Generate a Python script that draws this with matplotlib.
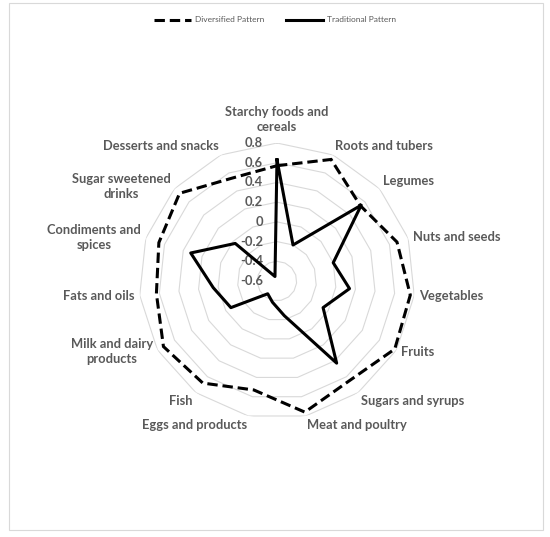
import numpy as np
import matplotlib
matplotlib.use("Agg")
import matplotlib.pyplot as plt
from matplotlib.patches import Rectangle
from matplotlib.transforms import offset_copy

plt.rcParams['font.family'] = ['Lato', 'DejaVu Sans']

CATEGORIES = ["Starchy foods and\ncereals", "Roots and tubers", "Legumes", "Nuts and seeds",
              "Vegetables", "Fruits", "Sugars and syrups", "Meat and poultry",
              "Eggs and products", "Fish", "Milk and dairy\nproducts", "Fats and oils",
              "Condiments and\nspices", "Sugar sweetened\ndrinks", "Desserts and snacks"]
DIVERSIFIED = [0.57, 0.75, 0.54, 0.68, 0.76, 0.78, 0.65, 0.76, 0.53, 0.68, 0.73, 0.63, 0.66, 0.73, 0.54]
TRADITIONAL = [0.63, -0.20, 0.55, 0.00, 0.14, -0.06, 0.43, -0.24, -0.38, -0.44, -0.06, 0.05, 0.32, -0.03, -0.55]
RTICKS = [-0.6, -0.4, -0.2, 0, 0.2, 0.4, 0.6, 0.8]

GRAY = "#595959"
GRID = "#d9d9d9"
FS = 9.3

fig = plt.figure(figsize=(5.5, 5.37), dpi=100)
fig.patches.append(Rectangle((0.0164, 0.013), 0.971, 0.981, transform=fig.transFigure,
                             fill=False, edgecolor=GRID, linewidth=0.8))

ax = fig.add_axes([0.2527, 0.2197, 0.5018, 0.514], projection='polar')
ax.set_theta_zero_location('N')
ax.set_theta_direction(-1)
ax.set_ylim(RTICKS[0], RTICKS[-1])
ax.spines['polar'].set_visible(False)
ax.grid(False)
ax.set_xticks([])
ax.set_yticks([])
ax.patch.set_alpha(0)

n = len(CATEGORIES)
angles = np.linspace(0, 2 * np.pi, n, endpoint=False)
closed = np.append(angles, angles[0])

# polygon rings
for r in RTICKS[1:]:
    ax.plot(closed, [r] * (n + 1), color=GRID, linewidth=0.8, zorder=1)

d = DIVERSIFIED + DIVERSIFIED[:1]
t = TRADITIONAL + TRADITIONAL[:1]
ax.plot(closed, d, color='black', linewidth=2.2, linestyle=(0, (3.4, 1.6)),
        dash_joinstyle='miter', label="Diversified Pattern", zorder=3)
ax.plot(closed, t, color='black', linewidth=2.2, solid_joinstyle='round',
        label="Traditional Pattern", zorder=3)

# radial value labels
tl = offset_copy(ax.transData, fig=fig, x=-14, y=0, units='dots')
for v in RTICKS:
    ax.text(0, v, f"{v:g}", transform=tl, ha='right', va='center',
            fontsize=FS, fontweight='bold', color=GRAY, zorder=2)

# category labels
for a, lab in zip(angles, CATEGORIES):
    s, c = np.sin(a), np.cos(a)
    gx, gy = 5 * s, 3 * c
    if abs(s) < 0.1:
        ha = 'center'
    elif s > 0:
        ha = 'left'
    else:
        ha = 'right'
    if c > 0.95:
        va = 'bottom'
        gy = 10
    elif c > 0.6 and '\n' not in lab:
        va = 'bottom'
    elif c < -0.7:
        va = 'top'
    else:
        va = 'center'
    tr = offset_copy(ax.transData, fig=fig, x=gx, y=gy, units='dots')
    ax.text(a, RTICKS[-1], lab, transform=tr, ha=ha, va=va, multialignment='center',
            fontsize=FS, fontweight='bold', color=GRAY, linespacing=1.35)

leg = fig.legend(loc='center', bbox_to_anchor=(0.5, 1 - 20 / 537), ncol=2, frameon=False,
                 fontsize=6, handlelength=4.5, columnspacing=2.5, handletextpad=0.5)
for txt in leg.get_texts():
    txt.set_color(GRAY)

fig.savefig("out.png", dpi=100)
